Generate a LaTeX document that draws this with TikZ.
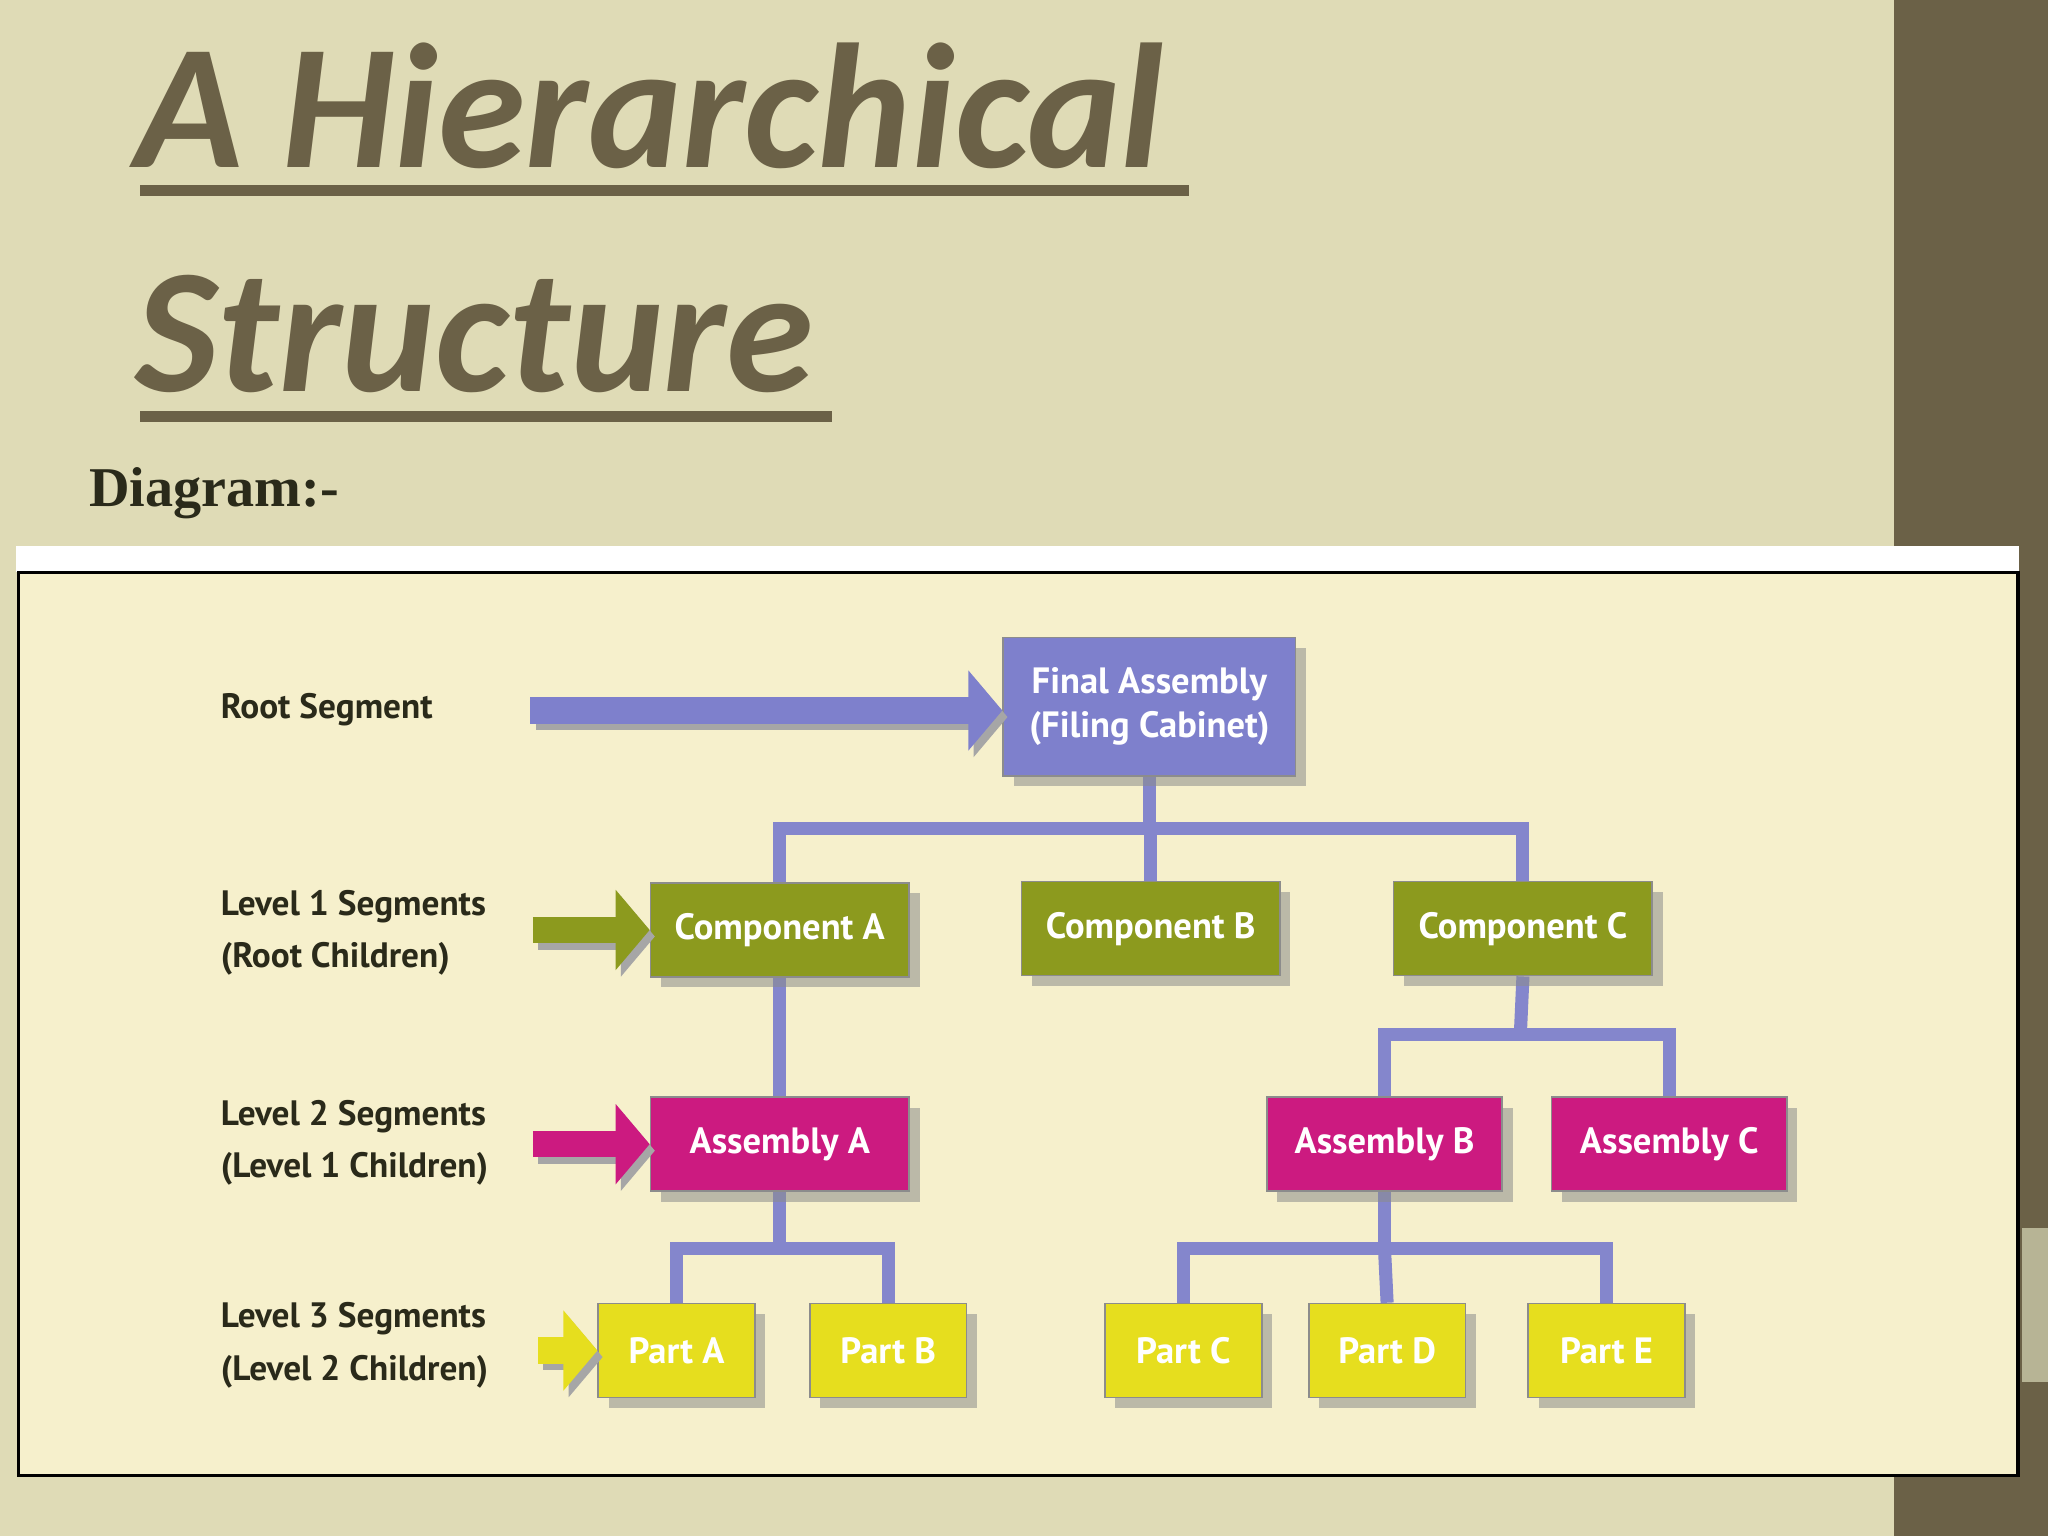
\documentclass[tikz,border=0pt]{standalone}
\usepackage{fontspec}
\setmainfont{PT Sans}
\newfontfamily\titlefont{Carlito}
\newfontfamily\serifb{Liberation Serif}
\usetikzlibrary{arrows.meta,shadows}
\definecolor{bgk}{HTML}{DFDBB6}
\definecolor{olivebar}{HTML}{6B6147}
\definecolor{panel}{HTML}{F6F0CC}
\definecolor{purp}{HTML}{7E80CC}
\definecolor{conn}{HTML}{8486CC}
\definecolor{oliv}{HTML}{8C9A1E}
\definecolor{mag}{HTML}{CC1A80}
\definecolor{yel}{HTML}{E6DE1E}
\definecolor{txt}{HTML}{2A2A1A}
\pgfdeclarelayer{bgl}
\pgfdeclarelayer{connl}
\pgfsetlayers{bgl,connl,main}
\tikzset{
 box/.style={draw=black!45,line width=0.6pt,text=white,font=\bfseries\fontsize{14}{17}\selectfont,align=center,inner sep=0pt,
   drop shadow={shadow xshift=4pt,shadow yshift=-4pt,fill=black!45,opacity=0.55}},
 root/.style={box,fill=purp,minimum width=112pt,minimum height=53pt},
 comp/.style={box,fill=oliv,minimum width=99pt,minimum height=36pt},
 asm/.style={box,fill=mag,minimum width=99pt,minimum height=36pt},
 part/.style={box,fill=yel,minimum width=60pt,minimum height=36pt},
 cn/.style={draw=conn,line width=5pt},
 lab/.style={anchor=west,align=left,text=txt,font=\bfseries\fontsize{13.5}{20}\selectfont},
 bigarrow/.style={line width=10pt,-{Triangle[length=13pt,width=30pt]}},
}
\begin{document}
\begin{tikzpicture}[x=0.5pt,y=-0.5pt]
\begin{pgfonlayer}{bgl}
\fill[bgk] (0,0) rectangle (1568,1176);
\fill[olivebar] (1450,0) rectangle (1568,1176);
\fill[black!18!bgk] (1548,940) rectangle (1568,1058);
\fill[white] (12,418) rectangle (1546,438);
\draw[black,line width=1.2pt,fill=panel] (14,438) rectangle (1545,1130);
\end{pgfonlayer}
% title
\node[anchor=base west,inner sep=0pt,text=olivebar,font=\titlefont\bfseries\itshape\fontsize{68}{72}\selectfont] (t1) at (103,128) {A Hierarchical};
\fill[olivebar] (107,142) rectangle (910,150);
\node[anchor=base west,inner sep=0pt,text=olivebar,font=\titlefont\bfseries\itshape\fontsize{68}{72}\selectfont] (t2) at (103,300) {Structure};
\fill[olivebar] (107,315) rectangle (637,323);
\node[anchor=base west,inner sep=0pt,text=txt,font=\serifb\bfseries\fontsize{21.5}{24}\selectfont] (dg) at (68,388) {Diagram:-};
% boxes
\node[root] (fa) at (880,541) {Final Assembly\\(Filing Cabinet)};
\node[comp] (ca) at (597,712) {Component A};
\node[comp] (cb) at (881,711) {Component B};
\node[comp] (cc) at (1166,711) {Component C};
\node[asm] (aa) at (597,876) {Assembly A};
\node[asm,minimum width=90pt] (ab) at (1060,876) {Assembly B};
\node[asm,minimum width=90pt] (ac) at (1278,876) {Assembly C};
\node[part] (pa) at (518,1034) {Part A};
\node[part] (pb) at (680,1034) {Part B};
\node[part] (pc) at (906,1034) {Part C};
\node[part] (pd) at (1062,1034) {Part D};
\node[part] (pe) at (1230,1034) {Part E};
% connectors
\coordinate (j1) at (880,634);
\coordinate (j2) at (1164,792);
\coordinate (j3) at (597,956);
\coordinate (j4) at (1060,956);
\begin{pgfonlayer}{connl}
\draw[cn] (fa.south) -- (j1);
\draw[cn] (ca.north) |- (j1);
\draw[cn] (cb.north) -- (cb.north |- j1);
\draw[cn] (cc.north) |- (j1);
\draw[cn] (ca.south) -- (aa.north);
\draw[cn] (cc.south) -- (j2);
\draw[cn] (ab.north) |- (j2);
\draw[cn] (ac.north) |- (j2);
\draw[cn] (aa.south) -- (j3);
\draw[cn] (pa.north) |- (j3);
\draw[cn] (pb.north) |- (j3);
\draw[cn] (ab.south) -- (j4);
\draw[cn] (pc.north) |- (j4);
\draw[cn] (pd.north) -- (j4);
\draw[cn] (pe.north) |- (j4);
\end{pgfonlayer}
% labels
\node[lab] (l0) at (162,543) {Root Segment};
\node[lab] (l1) at (162,714) {Level 1 Segments\\(Root Children)};
\node[lab] (l2) at (162,875) {Level 2 Segments\\(Level 1 Children)};
\node[lab] (l3) at (162,1030) {Level 3 Segments\\(Level 2 Children)};
% arrows
\coordinate (s0) at (406,544);
\coordinate (s1) at (408,712);
\coordinate (s2) at (408,876);
\coordinate (s3) at (412,1034);
\draw[bigarrow,draw=black!35,fill=black!35] ([shift={(4,5)}]s0) -- ([shift={(4,5)}]fa.west |- s0);
\draw[bigarrow,draw=purp,fill=purp] (s0) -- (fa.west |- s0);
\draw[bigarrow,draw=black!35,fill=black!35] ([shift={(4,5)}]s1) -- ([shift={(4,5)}]ca.west |- s1);
\draw[bigarrow,draw=oliv,fill=oliv] (s1) -- (ca.west |- s1);
\draw[bigarrow,draw=black!35,fill=black!35] ([shift={(4,5)}]s2) -- ([shift={(4,5)}]aa.west |- s2);
\draw[bigarrow,draw=mag,fill=mag] (s2) -- (aa.west |- s2);
\draw[bigarrow,draw=black!35,fill=black!35] ([shift={(4,5)}]s3) -- ([shift={(4,5)}]pa.west |- s3);
\draw[bigarrow,draw=yel,fill=yel] (s3) -- (pa.west |- s3);
\end{tikzpicture}
\end{document}
